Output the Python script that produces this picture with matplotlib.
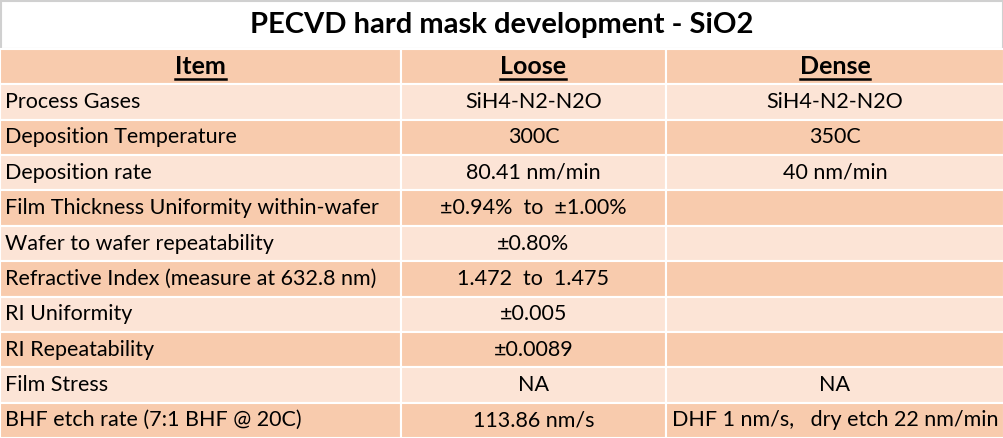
import matplotlib.pyplot as plt
from matplotlib.patches import Rectangle

title = "PECVD hard mask development - SiO2"
headers = ["Item", "Loose", "Dense"]
items = ["Process Gases", "Deposition Temperature", "Deposition rate",
         "Film Thickness Uniformity within-wafer", "Wafer to wafer repeatability",
         "Refractive Index (measure at 632.8 nm)", "RI Uniformity", "RI Repeatability",
         "Film Stress", "BHF etch rate (7:1 BHF @ 20C)"]
loose = ["SiH4-N2-N2O", "300C", "80.41 nm/min", "±0.94%  to  ±1.00%", "±0.80%",
         "1.472  to  1.475", "±0.005", "±0.0089", "NA", "113.86 nm/s"]
dense = ["SiH4-N2-N2O", "350C", "40 nm/min", "", "", "", "", "", "NA",
         "DHF 1 nm/s,   dry etch 22 nm/min"]

dark = "#F8CBAD"
light = "#FCE4D6"
font = "Lato"

W, H = 1004, 438
fig = plt.figure(figsize=(W / 100, H / 100), dpi=100)
ax = fig.add_axes([0, 0, 1, 1])
ax.set_xlim(0, W)
ax.set_ylim(H, 0)
ax.axis("off")

# title box
ax.add_patch(Rectangle((0.5, 0.5), W - 1.5, 48, facecolor="white", edgecolor="#d0d0d0", lw=1.5))
ax.text(W / 2, 25, title, ha="center", va="center", fontsize=21, fontweight="bold", family=font)

col_x = [0, 401, 666, W]
top = 49
rh = (H - top) / 11
centers = [(col_x[i] + col_x[i + 1]) / 2 for i in range(3)]

rows = [headers] + [list(r) for r in zip(items, loose, dense)]
for r, row in enumerate(rows):
    y = top + r * rh
    fc = dark if r % 2 == 0 else light
    for c in range(3):
        ax.add_patch(Rectangle((col_x[c], y), col_x[c + 1] - col_x[c], rh,
                               facecolor=fc, edgecolor="white", lw=1.5))
    for c, txt in enumerate(row):
        if r == 0:
            t = ax.text(centers[c], y + rh / 2, txt, ha="center", va="center",
                        fontsize=18, fontweight="bold", family=font)
            # underline
            fig.canvas.draw()
            bb = t.get_window_extent().transformed(ax.transData.inverted())
            ax.plot([bb.x0, bb.x1], [y + rh / 2 + 12, y + rh / 2 + 12], color="black", lw=1.8)
        elif c == 0:
            ax.text(5, y + rh / 2, txt, ha="left", va="center", fontsize=15.5, family=font)
        else:
            ax.text(centers[c], y + rh / 2, txt, ha="center", va="center", fontsize=15.5, family=font)

fig.savefig("out.png", dpi=100)
